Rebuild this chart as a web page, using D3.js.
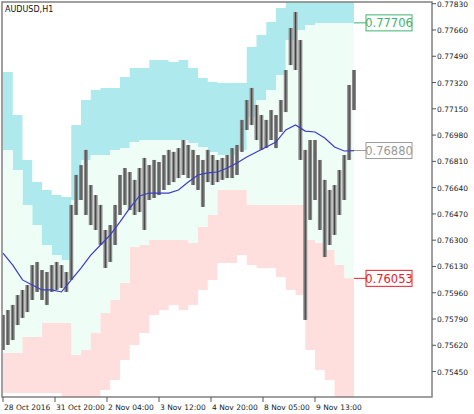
<!DOCTYPE html>
<html><head><meta charset="utf-8">
<script src="https://cdn.jsdelivr.net/npm/d3@7/dist/d3.min.js"></script>
<style>body{margin:0;background:#fff}svg{display:block}</style>
</head><body>
<script>
// hour offsets from 28 Oct 2016 (H1)
const tickLabels = ["28 Oct 2016","31 Oct 20:00","2 Nov 04:00","3 Nov 12:00","4 Nov 20:00","8 Nov 05:00","9 Nov 13:00"];
const tickHours = [0,32,64,96,128,160,192];
const priceTicks = [0.77830,0.77660,0.77490,0.77320,0.77150,0.76980,0.76810,0.76640,0.76470,0.76300,0.76130,0.75960,0.75790,0.75620,0.75450];
// band samples every 6 hours
const bandHours = d3.range(0,217,6);
const outerUpper = [.77388,.77110,.76819,.76676,.76625,.76592,.76579,.77045,.77207,.77272,.77285,.77285,.77356,.77414,.77414,.77466,.77466,.77453,.77466,.77414,.77349,.77323,.77317,.77317,.77317,.77550,.77628,.77712,.77802,.77919,.77919,.77919,.77919,.77919,.77919,.77919,.77919];
const upperBand = [.76884,.76754,.76528,.76398,.76269,.76204,.76172,.76560,.76819,.76851,.76851,.76884,.76896,.76935,.76948,.76948,.76948,.76948,.76948,.76929,.76903,.76871,.76851,.76851,.76884,.77097,.77207,.77272,.77369,.77595,.77660,.77692,.77706,.77706,.77706,.77706,.77706];
const lowerBand = [.75570,.75570,.75674,.75674,.75764,.75764,.75764,.75557,.75590,.75699,.75829,.75913,.76023,.76256,.76269,.76301,.76301,.76301,.76301,.76282,.76385,.76463,.76625,.76625,.76625,.76528,.76528,.76528,.76528,.76528,.76528,.76301,.76282,.76237,.76139,.76053,.76053];
const outerLower = [.75311,.75311,.75311,.75311,.75311,.75311,.75266,.75266,.75266,.75266,.75331,.75395,.75525,.75622,.75699,.75816,.75848,.75881,.75848,.75881,.75978,.76043,.76152,.76152,.76204,.76139,.76120,.76120,.76062,.75978,.75945,.75590,.75460,.75395,.75285,.75266,.75266];
const middleLine = [.76217,.76139,.76043,.76010,.75978,.75978,.75965,.76043,.76120,.76204,.76269,.76334,.76418,.76508,.76586,.76605,.76605,.76605,.76625,.76676,.76722,.76735,.76741,.76767,.76799,.76838,.76871,.76903,.76935,.77013,.77045,.77006,.77000,.76961,.76903,.76877,.76880];
// price bars every 3 hours
const barHours = d3.range(0,217,3);
const highs = [.75816,.75848,.75881,.75945,.75978,.76010,.76139,.76159,.76107,.76094,.76139,.76159,.76139,.76094,.76528,.76722,.76786,.76884,.76657,.76592,.76528,.76366,.76398,.76528,.76722,.76767,.76741,.76690,.76767,.76832,.76786,.76819,.76806,.76851,.76884,.76871,.76896,.76948,.76916,.76884,.76851,.76819,.76884,.76851,.76819,.76832,.76851,.76896,.76916,.77078,.77207,.77285,.77175,.77110,.77078,.77142,.77110,.77207,.77401,.77673,.77776,.77595,.76884,.76948,.76948,.76819,.76690,.76625,.76657,.76754,.76851,.77304,.77401];
const lows = [.75590,.75622,.75654,.75751,.75797,.75835,.75913,.75965,.75913,.75881,.75965,.75978,.75991,.75965,.76043,.76463,.76560,.76463,.76398,.76366,.76269,.76120,.76159,.76269,.76463,.76528,.76495,.76463,.76482,.76366,.76560,.76573,.76592,.76625,.76657,.76676,.76702,.76722,.76702,.76657,.76625,.76515,.76676,.76657,.76676,.76690,.76702,.76702,.76722,.76871,.77013,.77045,.76948,.76884,.76896,.76948,.76896,.77000,.77129,.77433,.77401,.76819,.75784,.76431,.76560,.76366,.76191,.76269,.76334,.76463,.76560,.76819,.77142];
const markers = [{v:0.77706,c:"#3cb371"},{v:0.76880,c:"#9a9a9a"},{v:0.76053,c:"#e8202a"}];

const W=474,H=414, L=2, R=432, T=2, B=397;
const svg=d3.select("body").append("svg").attr("width",W).attr("height",H);
const x=d3.scaleLinear().domain([0,216]).range([3,354]);
const y=d3.scaleLinear().domain([0.77854,0.75266]).range([0,400]);
svg.append("defs").append("clipPath").attr("id","c").append("rect").attr("x",L).attr("y",T).attr("width",R-L).attr("height",B-T);
const g=svg.append("g").attr("clip-path","url(#c)");
function band(a,b,col){
  g.append("path").datum(bandHours.map((h,i)=>[h,a[i],b[i]]))
   .attr("d",d3.area().curve(d3.curveStepAfter).x(d=>x(d[0])).y0(d=>y(d[2])).y1(d=>y(d[1])))
   .attr("fill",col);
}
band(outerUpper,upperBand,"#aeeaed");
band(upperBand,lowerBand,"#effdf7");
band(lowerBand,outerLower,"#ffdfdd");
g.selectAll("rect.bar").data(barHours).join("rect").attr("class","bar")
 .attr("x",h=>x(h)-2).attr("width",4)
 .attr("y",(h,i)=>y(highs[i])).attr("height",(h,i)=>y(lows[i])-y(highs[i]))
 .attr("fill","#8a8a8a");
g.selectAll("line.bar").data(barHours).join("line").attr("class","bar")
 .attr("x1",h=>x(h)).attr("x2",h=>x(h))
 .attr("y1",(h,i)=>y(highs[i])).attr("y2",(h,i)=>y(lows[i]))
 .attr("stroke","#3a3a3a").attr("stroke-width",0.9);
g.append("path").datum(bandHours.map((h,i)=>[h,middleLine[i]]))
 .attr("d",d3.line().x(d=>x(d[0])).y(d=>y(d[1]))).attr("fill","none").attr("stroke","#3c3cc8").attr("stroke-width",1.2);
// border
svg.append("rect").attr("x",L).attr("y",T).attr("width",R-L).attr("height",B-T).attr("fill","none").attr("stroke","#808080").attr("stroke-width",1.5);
// right axis
const ya=svg.append("g");
priceTicks.forEach(p=>{
  ya.append("line").attr("x1",R).attr("x2",R+4).attr("y1",y(p)).attr("y2",y(p)).attr("stroke","#555");
  ya.append("text").attr("x",R+5).attr("y",y(p)+3).text(p.toFixed(5)).attr("font-family","DejaVu Sans").attr("font-size",7.5).attr("fill","#222");
});
// bottom axis
tickHours.forEach((h,i)=>{
  svg.append("line").attr("x1",x(h)).attr("x2",x(h)).attr("y1",B).attr("y2",B+5).attr("stroke","#555");
  svg.append("text").attr("x",x(h)+1).attr("y",B+13).text(tickLabels[i]).attr("font-family","DejaVu Sans").attr("font-size",7.5).attr("fill","#222");
});
// value markers
markers.forEach(m=>{
  const yy=y(m.v);
  svg.append("line").attr("x1",354).attr("x2",366).attr("y1",yy).attr("y2",yy).attr("stroke",m.c);
  svg.append("rect").attr("x",366).attr("y",yy-8).attr("width",46).attr("height",16).attr("fill","#fff").attr("stroke",m.c);
  svg.append("text").attr("x",389).attr("y",yy+4.5).attr("text-anchor","middle").text(m.v.toFixed(5)).attr("font-family","DejaVu Sans").attr("font-size",11.5).attr("fill",m.c);
});
svg.append("text").attr("x",5).attr("y",12).text("AUDUSD,H1").attr("font-family","DejaVu Sans").attr("font-size",8).attr("fill","#111");
</script>
</body></html>
